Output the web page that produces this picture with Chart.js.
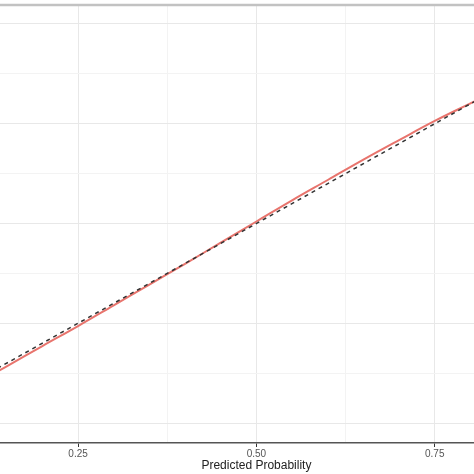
<!DOCTYPE html>
<html>
<head>
<meta charset="utf-8">
<script src="https://cdn.jsdelivr.net/npm/chart.js@4"></script>
<style>
  html, body { margin: 0; padding: 0; background: #fff; overflow: hidden; }
  #wrap { width: 474px; height: 474px; }
</style>
</head>
<body>
<div id="wrap"><canvas id="calib"></canvas></div>
<script>
// calibration curve (smoothed)
const predicted = [0.10, 0.15, 0.20, 0.25, 0.30, 0.35, 0.40, 0.45, 0.50, 0.55, 0.60, 0.65, 0.70, 0.75, 0.80, 0.85];
const observed  = [0.092, 0.142, 0.193, 0.243, 0.295, 0.347, 0.399, 0.452, 0.505, 0.558, 0.609, 0.660, 0.709, 0.757, 0.801, 0.845];

// perfect calibration reference
const refX = [0, 1];
const refY = [0, 1];

const xTicks = [0.25, 0.375, 0.5, 0.625, 0.75];
const xLabels = ['0.25', '', '0.50', '', '0.75'];
const yTicks = [0, 0.125, 0.25, 0.375, 0.5, 0.625, 0.75, 0.875, 1];

const isMajor = v => Math.abs(v * 4 - Math.round(v * 4)) < 1e-6;

// top border line + axis title centred on the full panel (0.5)
const extras = {
  id: 'extras',
  afterDraw(chart) {
    const c = chart.ctx, a = chart.chartArea;
    c.save();
    c.strokeStyle = '#c2c2c2';
    c.lineWidth = 2.5;
    c.beginPath();
    c.moveTo(0, a.top + 1);
    c.lineTo(chart.width, a.top + 1);
    c.stroke();
    c.fillStyle = '#222';
    c.font = '12px "Liberation Sans", Arial, sans-serif';
    c.textAlign = 'center';
    c.textBaseline = 'middle';
    c.fillText('Predicted Probability', chart.scales.x.getPixelForValue(0.5), 466);
    c.restore();
  }
};

new Chart(document.getElementById('calib'), {
  type: 'line',
  data: {
    datasets: [
      {
        label: 'Ideal',
        data: refX.map((x, i) => ({ x: x, y: refY[i] })),
        borderColor: '#333',
        borderWidth: 1.5,
        borderDash: [4, 4],
        pointRadius: 0,
        order: 0
      },
      {
        label: 'Calibration',
        data: predicted.map((x, i) => ({ x: x, y: observed[i] })),
        borderColor: '#e8746d',
        borderWidth: 2,
        pointRadius: 0,
        tension: 0.4,
        order: 1
      }
    ]
  },
  options: {
    responsive: true,
    maintainAspectRatio: false,
    animation: false,
    layout: { padding: { top: 4, left: 0, right: 0, bottom: 13 } },
    plugins: { legend: { display: false }, tooltip: { enabled: false } },
    scales: {
      x: {
        type: 'linear',
        min: 0.1406,
        max: 0.805,
        afterBuildTicks: axis => { axis.ticks = xTicks.map(v => ({ value: v })); },
        ticks: {
          autoSkip: false,
          maxRotation: 0,
          padding: 1,
          color: '#555',
          font: { family: '"Liberation Sans", Arial, sans-serif', size: 10 },
          callback: (v, i) => xLabels[i]
        },
        grid: {
          color: ctx => isMajor(ctx.tick.value) ? '#e8e8e8' : '#f3f3f3',
          lineWidth: 1,
          tickLength: 4,
          tickColor: ctx => isMajor(ctx.tick.value) ? '#333' : 'rgba(0,0,0,0)'
        },
        border: { display: true, color: '#555', width: 1.5 }
      },
      y: {
        type: 'linear',
        min: -0.05,
        max: 1.05,
        afterBuildTicks: axis => { axis.ticks = yTicks.map(v => ({ value: v })); },
        afterFit: axis => { axis.width = 0; },
        ticks: { display: false },
        grid: {
          color: ctx => isMajor(ctx.tick.value) ? '#e8e8e8' : '#f3f3f3',
          lineWidth: 1,
          drawTicks: false
        },
        border: { display: false }
      }
    }
  },
  plugins: [extras]
});
</script>
</body>
</html>
